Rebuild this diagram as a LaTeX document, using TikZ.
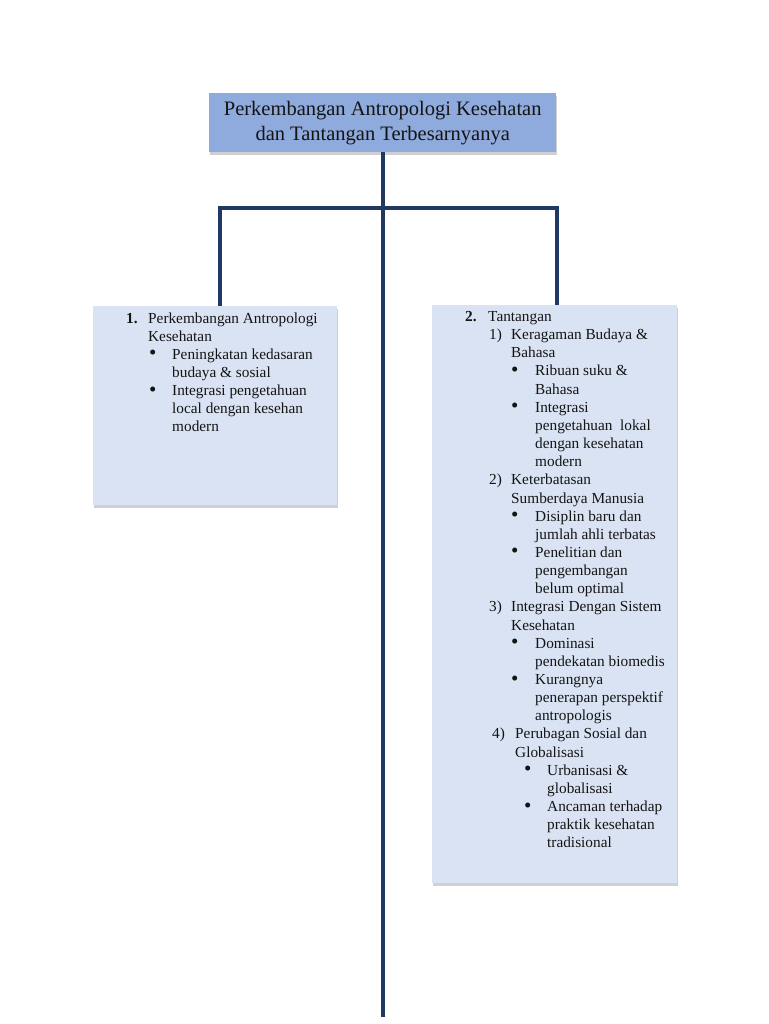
\documentclass[tikz,border=0pt]{standalone}
\usepackage{fontspec}
\setmainfont{Liberation Serif}
\usetikzlibrary{shadows}
\definecolor{titlefill}{RGB}{143,170,220}
\definecolor{boxfill}{RGB}{218,227,243}
\definecolor{linecol}{RGB}{31,56,100}
\definecolor{txt}{RGB}{20,20,20}
\newcommand\IL[4]{\noindent\hspace*{#1pt}\makebox[#2pt][l]{#3}#4\par}
\newcommand\BodyFont{\fontsize{15.3pt}{18.15pt}\selectfont}
\newcommand\Bul{\raisebox{-0.5pt}{\fontsize{21pt}{18pt}\selectfont •}}
\begin{document}
\begin{tikzpicture}[x=1pt,y=-1pt,
  titlebox/.style={draw=none, fill=titlefill, inner sep=0pt, align=center,
    text=txt, font=\fontsize{20.5pt}{25pt}\selectfont,
    drop shadow={shadow xshift=1pt, shadow yshift=-2.5pt, opacity=0.3, fill=black!60}},
  listbox/.style={draw=none, fill=boxfill, inner sep=0pt,
    drop shadow={shadow xshift=1pt, shadow yshift=-2.5pt, opacity=0.3, fill=black!60}},
  listtext/.style={anchor=base west, inner sep=0pt, text=txt},
  conn/.style={draw=linecol, line width=3.6pt, line join=miter, line cap=butt}]
\useasboundingbox (0,0) rectangle (768,1024);
\fill[white] (0,0) rectangle (768,1024);

% boxes
\node[titlebox, minimum width=347pt, minimum height=59pt, anchor=north west] (title) at (209,93)
  {Perkembangan Antropologi Kesehatan\\dan Tantangan Terbesarnyanya};
\node[listbox, minimum width=244pt, minimum height=199pt, anchor=north west] (left) at (93,306) {};
\node[listbox, minimum width=245pt, minimum height=578pt, anchor=north west] (right) at (432,305) {};

% connectors
\coordinate (bottom) at (383,1017);
\coordinate (busL) at (220,208);
\coordinate (busR) at (557,208);
\draw[conn] (title.south) -- (title.south |- bottom);
\draw[conn] (busL |- left.north) -- (busL) -- (busR) -- (busR |- right.north);

% left text
\node[listtext] (lefttext) at (93,323) {\begin{minipage}[t]{244pt}\BodyFont
\IL{33}{22}{\textbf{1.}}{Perkembangan Antropologi}
\IL{33}{22}{}{Kesehatan}
\IL{56}{23}{\Bul}{Peningkatan kedasaran}
\IL{56}{23}{}{budaya \& sosial}
\IL{56}{23}{\Bul}{Integrasi pengetahuan}
\IL{56}{23}{}{local dengan kesehan}
\IL{56}{23}{}{modern}
\end{minipage}};

% right text
\node[listtext] (righttext) at (432,321.5) {\begin{minipage}[t]{245pt}\BodyFont
\IL{33}{23}{\textbf{2.}}{Tantangan}
\IL{57}{22}{1)}{Keragaman Budaya \&}
\IL{57}{22}{}{Bahasa}
\IL{79}{24}{\Bul}{Ribuan suku \&}
\IL{79}{24}{}{Bahasa}
\IL{79}{24}{\Bul}{Integrasi}
\IL{79}{24}{}{pengetahuan\ \ lokal}
\IL{79}{24}{}{dengan kesehatan}
\IL{79}{24}{}{modern}
\IL{57}{22}{2)}{Keterbatasan}
\IL{57}{22}{}{Sumberdaya Manusia}
\IL{79}{24}{\Bul}{Disiplin baru dan}
\IL{79}{24}{}{jumlah ahli terbatas}
\IL{79}{24}{\Bul}{Penelitian dan}
\IL{79}{24}{}{pengembangan}
\IL{79}{24}{}{belum optimal}
\IL{57}{22}{3)}{Integrasi Dengan Sistem}
\IL{57}{22}{}{Kesehatan}
\IL{79}{24}{\Bul}{Dominasi}
\IL{79}{24}{}{pendekatan biomedis}
\IL{79}{24}{\Bul}{Kurangnya}
\IL{79}{24}{}{penerapan perspektif}
\IL{79}{24}{}{antropologis}
\IL{60}{23}{4)}{Perubagan Sosial dan}
\IL{60}{23}{}{Globalisasi}
\IL{92}{23}{\Bul}{Urbanisasi \&}
\IL{92}{23}{}{globalisasi}
\IL{92}{23}{\Bul}{Ancaman terhadap}
\IL{92}{23}{}{praktik kesehatan}
\IL{92}{23}{}{tradisional}
\end{minipage}};
\end{tikzpicture}
\end{document}
